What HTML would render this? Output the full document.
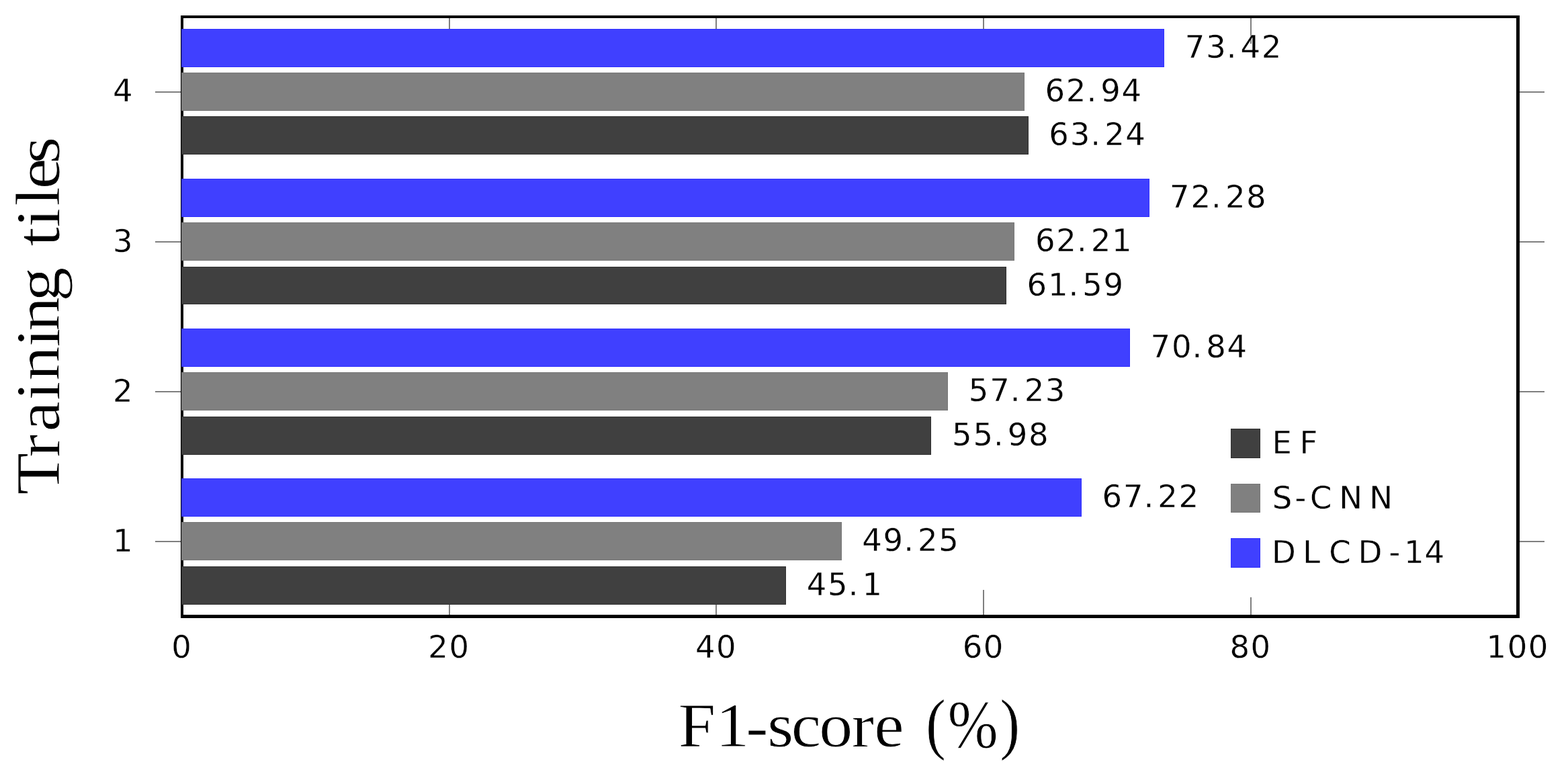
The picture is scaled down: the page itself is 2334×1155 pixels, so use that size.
<!DOCTYPE html>
<html lang="en"><head><meta charset="utf-8"><title>F1-score vs training tiles</title>
<style>
html,body{margin:0;padding:0;background:#fff;}
body{width:2334px;height:1155px;overflow:hidden;}
svg{display:block;}
.s{font-family:"DejaVu Sans","Liberation Sans",sans-serif;font-size:46.5px;fill:#000;stroke:#fff;stroke-width:0.3px;paint-order:fill stroke;}
.r{font-family:"Liberation Serif","DejaVu Serif",serif;fill:#000;stroke:#fff;stroke-width:0.8px;paint-order:fill stroke;}
</style></head><body>
<svg width="2334" height="1155" viewBox="0 0 2334 1155">
<rect x="0" y="0" width="2334" height="1155" fill="#fff"/>
<g fill="#7f7f7f" shape-rendering="crispEdges">
<rect x="270" y="25" width="2" height="40"/>
<rect x="270" y="878" width="2" height="40"/>
<rect x="668" y="25" width="2" height="40"/>
<rect x="668" y="878" width="2" height="40"/>
<rect x="1065" y="25" width="2" height="40"/>
<rect x="1065" y="878" width="2" height="40"/>
<rect x="1463" y="25" width="2" height="40"/>
<rect x="1463" y="878" width="2" height="40"/>
<rect x="1861" y="25" width="2" height="40"/>
<rect x="1861" y="889" width="2" height="29"/>
<rect x="2259" y="25" width="2" height="40"/>
<rect x="2259" y="878" width="2" height="40"/>
<rect x="231" y="136" width="40" height="2"/>
<rect x="2259" y="136" width="40" height="2"/>
<rect x="231" y="359" width="40" height="2"/>
<rect x="2259" y="359" width="40" height="2"/>
<rect x="231" y="582" width="40" height="2"/>
<rect x="2259" y="582" width="40" height="2"/>
<rect x="231" y="805" width="40" height="2"/>
<rect x="2259" y="805" width="40" height="2"/>
</g>
<g fill="#000" shape-rendering="crispEdges">
<rect x="269" y="23" width="1993" height="4"/>
<rect x="269" y="915" width="1993" height="5"/>
<rect x="269" y="23" width="4" height="897"/>
<rect x="2257" y="23" width="5" height="897"/>
</g>
<g shape-rendering="crispEdges">
<rect x="270" y="43" width="1463" height="57" fill="#3030ff"/>
<rect x="271" y="44" width="1461" height="55" fill="#4040ff"/>
<rect x="270" y="108" width="1255" height="57" fill="#787878"/>
<rect x="271" y="109" width="1253" height="55" fill="#808080"/>
<rect x="270" y="173" width="1261" height="57" fill="#303030"/>
<rect x="271" y="174" width="1259" height="55" fill="#404040"/>
<rect x="270" y="266" width="1441" height="57" fill="#3030ff"/>
<rect x="271" y="267" width="1439" height="55" fill="#4040ff"/>
<rect x="270" y="331" width="1240" height="57" fill="#787878"/>
<rect x="271" y="332" width="1238" height="55" fill="#808080"/>
<rect x="270" y="397" width="1228" height="56" fill="#303030"/>
<rect x="271" y="398" width="1226" height="54" fill="#404040"/>
<rect x="270" y="489" width="1412" height="57" fill="#3030ff"/>
<rect x="271" y="490" width="1410" height="55" fill="#4040ff"/>
<rect x="270" y="554" width="1141" height="57" fill="#787878"/>
<rect x="271" y="555" width="1139" height="55" fill="#808080"/>
<rect x="270" y="620" width="1116" height="57" fill="#303030"/>
<rect x="271" y="621" width="1114" height="55" fill="#404040"/>
<rect x="270" y="712" width="1340" height="57" fill="#3030ff"/>
<rect x="271" y="713" width="1338" height="55" fill="#4040ff"/>
<rect x="270" y="777" width="983" height="57" fill="#787878"/>
<rect x="271" y="778" width="981" height="55" fill="#808080"/>
<rect x="270" y="843" width="900" height="57" fill="#303030"/>
<rect x="271" y="844" width="898" height="55" fill="#404040"/>
</g>
<text class="s" x="1763.79 1795.19 1825.79 1846.59 1877.79" y="85.9">73.42</text>
<text class="s" x="1555.39 1586.79 1617.39 1638.19 1669.39" y="150.9">62.94</text>
<text class="s" x="1561.36 1592.76 1623.36 1644.16 1675.36" y="216.4">63.24</text>
<text class="s" x="1741.12 1772.52 1803.12 1823.92 1855.12" y="308.9">72.28</text>
<text class="s" x="1540.88 1572.28 1602.88 1623.68 1654.88" y="373.9">62.21</text>
<text class="s" x="1528.55 1559.95 1590.55 1611.35 1642.55" y="439.9">61.59</text>
<text class="s" x="1712.48 1743.88 1774.48 1795.28 1826.48" y="531.9">70.84</text>
<text class="s" x="1441.85 1473.25 1503.85 1524.65 1555.85" y="596.9">57.23</text>
<text class="s" x="1416.99 1448.39 1478.99 1499.79 1530.99" y="662.9">55.98</text>
<text class="s" x="1640.5 1671.9 1702.5 1723.3 1754.5" y="754.9">67.22</text>
<text class="s" x="1283.17 1314.57 1345.17 1365.97 1397.17" y="819.9">49.25</text>
<text class="s" x="1200.64 1232.04 1262.64 1283.44" y="885.9">45.1</text>
<text class="s" x="168" y="151">4</text>
<text class="s" x="168" y="374.6">3</text>
<text class="s" x="168" y="598">2</text>
<text class="s" x="168" y="821">1</text>
<text class="s" x="255.15" y="978.7">0</text>
<text class="s" x="637.3 668.4" y="978.7">20</text>
<text class="s" x="1035 1066.1" y="978.7">40</text>
<text class="s" x="1432.7 1463.8" y="978.7">60</text>
<text class="s" x="1830.4 1861.5" y="978.7">80</text>
<text class="s" x="2212.55 2243.65 2274.75" y="978.7">100</text>
<rect x="1832" y="638" width="44" height="44" fill="#303030"/>
<rect x="1833" y="639" width="42" height="42" fill="#404040"/>
<text class="s" x="1893.4 1934.5" y="674.8">EF</text>
<rect x="1832" y="720" width="44" height="43" fill="#787878"/>
<rect x="1833" y="721" width="42" height="41" fill="#808080"/>
<text class="s" x="1893.7 1927.5 1950.1 1993.3 2038.3" y="756.7">S-CNN</text>
<rect x="1832" y="801" width="44" height="44" fill="#3030ff"/>
<rect x="1833" y="802" width="42" height="42" fill="#4040ff"/>
<text class="s" x="1893 1939.3 1978.2 2021.4 2067.6 2089.9 2120.5" y="838.3">DLCD-14</text>
<text class="r" font-size="92.5" transform="translate(0 1110.7) scale(1.08 1)" x="934.89 986.24 1028.03 1057.7 1090.61 1128.87 1173.89 1204.92" y="0" dy="0 0 2.2 -2.2 0 0 0 0">F1-score</text>
<text class="r" font-size="102" transform="translate(0 1110.7) scale(0.88 1)" x="1566 1603.08 1691.06" y="0" dy="0 2.5 -2.5">(%)</text>
<text class="r" font-size="93" transform="translate(87.5 0) rotate(-90) scale(1.1 1)" x="-669.38 -618.87 -584 -541.92 -514.98 -469.51 -448.16 -408.04" y="0">Training</text>
<text class="r" font-size="92.5" transform="translate(87.5 0) rotate(-90) scale(1.12 1)" x="-327.36 -302.18 -273.79 -251.45 -217.55" y="0">tiles</text>
</svg>
</body></html>
